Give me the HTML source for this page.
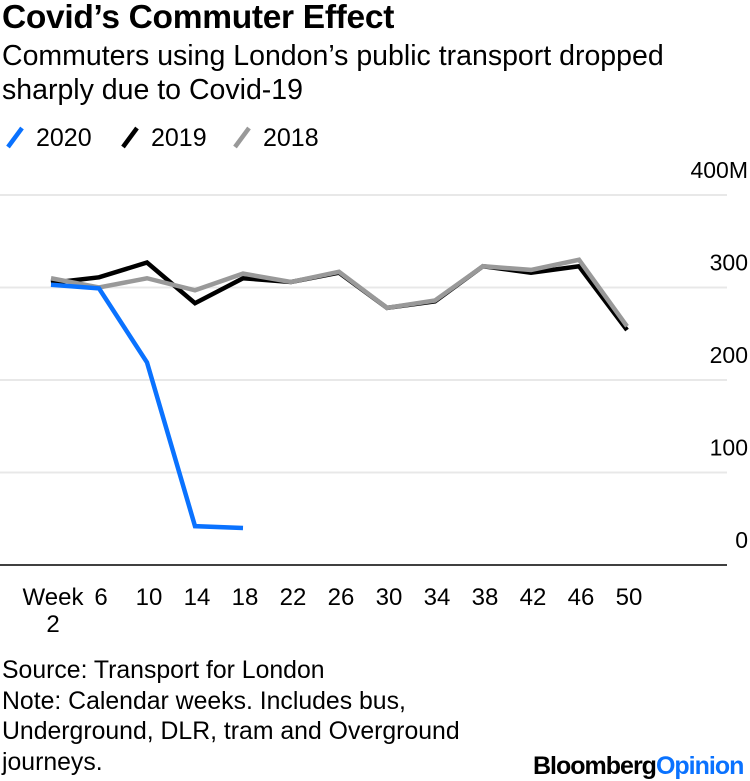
<!DOCTYPE html>
<html><head><meta charset="utf-8"><style>
body{margin:0;width:750px;height:780px;background:#fff;font-family:"Liberation Sans",Arial,sans-serif;color:#000;overflow:hidden;position:relative}
.t{position:absolute;white-space:nowrap}
</style></head><body>
<div class="t" style="left:2px;top:-1px;font-size:33.5px;font-weight:bold;letter-spacing:-0.3px">Covid’s Commuter Effect</div>
<div class="t" style="left:2px;top:39px;font-size:28.5px;line-height:34px;white-space:normal;width:700px">Commuters using London’s public transport dropped sharply due to Covid-19</div>
<svg id="c" width="750" height="780" style="position:absolute;left:0;top:0"></svg>
<div class="t" style="left:2px;top:656px;font-size:24.8px;line-height:30.5px">Source: Transport for London<br>Note: Calendar weeks. Includes bus,<br>Underground, DLR, tram and Overground<br>journeys.</div>
<div class="t" style="left:533px;top:752px;font-size:25px;font-weight:bold;letter-spacing:-1px">Bloomberg<span style="color:#0a72ff">Opinion</span></div>
<script>
const weeks=[2,6,10,14,18,22,26,30,34,38,42,46,50];
const tickLabels=["Week","6","10","14","18","22","26","30","34","38","42","46","50"];
const yTicks=[0,100,200,300,400];
const s2020=[303,299,219,42,40];
const s2019=[305,311,327,283,310,306,316,278,285,323,316,323,254];
const s2018=[310,300,310,297,315,306,317,278,286,323,319,330,258];
const NS="http://www.w3.org/2000/svg",svg=document.getElementById('c');
const x=w=>51+(w-2)*12;
const y=v=>565-v*0.925;
function el(t,a){const e=document.createElementNS(NS,t);for(const k in a)e.setAttribute(k,a[k]);svg.appendChild(e);return e;}
yTicks.forEach(v=>{
 if(v>0){const g=el('line',{x1:0,x2:727,y1:y(v),y2:y(v),stroke:'#e8e8e8','stroke-width':2});
 
 }
 const t=el('text',{x:748,y:y(v)-17,'text-anchor':'end','font-size':23,'font-family':'Liberation Sans, sans-serif'});
 t.textContent=v===400?'400M':String(v);
 
 
});
const base=el('line',{x1:0,x2:727,y1:565,y2:565,stroke:'#000','stroke-width':1.5});


weeks.forEach((w,i)=>{
 const t=el('text',{x:x(w)+2,y:605,'text-anchor':'middle','font-size':24,'font-family':'Liberation Sans, sans-serif'});
 t.textContent=tickLabels[i];
 
 
});
const t2=el('text',{x:x(2)+2,y:632,'text-anchor':'middle','font-size':24,'font-family':'Liberation Sans, sans-serif'});t2.textContent='2';


function line(data,color,name){
 const p=el('polyline',{points:data.map((v,i)=>x(weeks[i])+','+y(v)).join(' '),fill:'none',stroke:color,'stroke-width':4.5,'stroke-linejoin':'miter'});
 
 
}
line(s2019,'#000','line-2019');
line(s2018,'#999','line-2018');
line(s2020,'#0a72ff','line-2020');
const leg=[['2020','#0a72ff',3],['2019','#000',118],['2018','#999',230]];
leg.forEach(l=>{
 const m=el('line',{x1:l[2]+5,y1:147,x2:l[2]+19,y2:128,stroke:l[1],'stroke-width':4.5});
 
 
 const t=el('text',{x:l[2]+33,y:146,'font-size':25,'font-family':'Liberation Sans, sans-serif'});t.textContent=l[0];
 
 
});
</script>
</body></html>
